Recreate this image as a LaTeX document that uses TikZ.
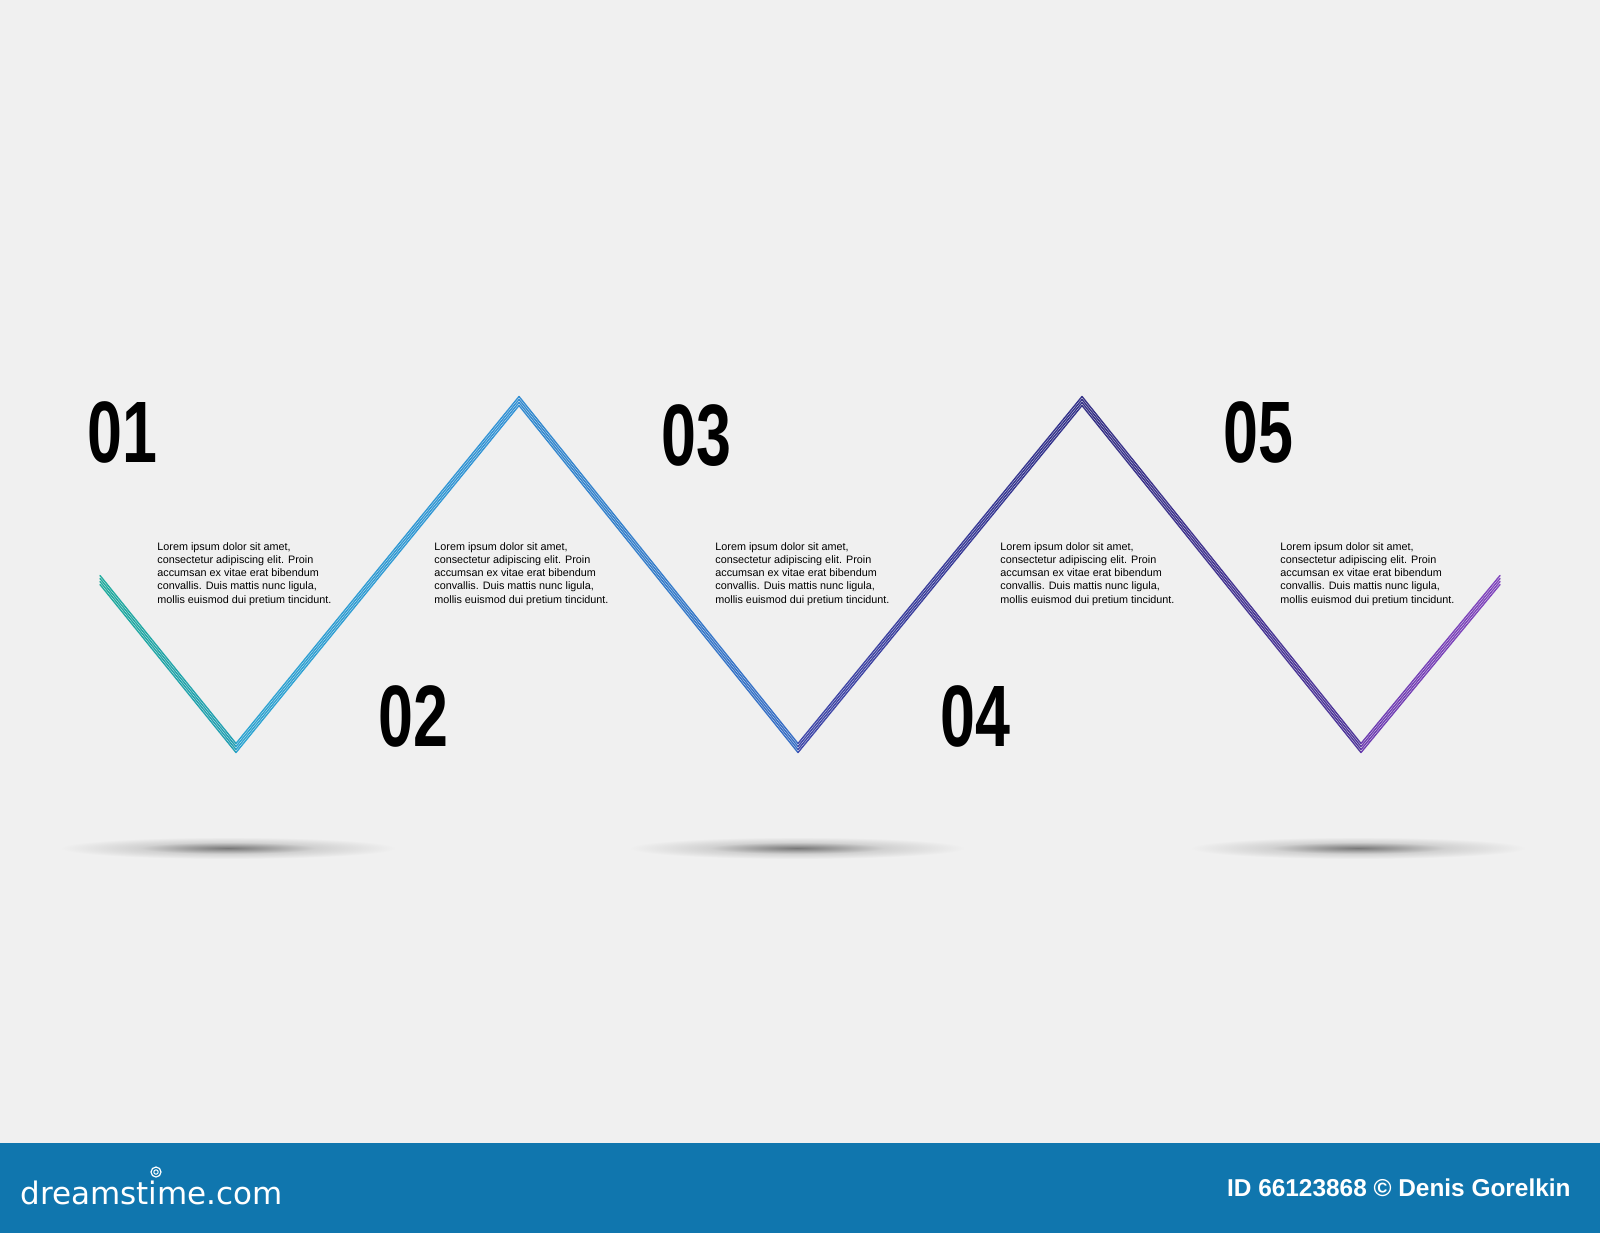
\documentclass[tikz,border=0pt]{standalone}
\usepackage{fontspec}
\setmainfont{Liberation Sans}
\newfontfamily\numfont[FakeStretch=0.72]{Liberation Sans}
\newfontfamily\logofont{DejaVu Sans}
\usetikzlibrary{calc}

\definecolor{bgcol}{RGB}{240,240,240}
\definecolor{barblue}{RGB}{16,118,174}
\definecolor{zgA}{RGB}{34,172,158}
\definecolor{zgB}{RGB}{36,160,180}
\definecolor{zgC}{RGB}{46,166,210}
\definecolor{zgD}{RGB}{52,146,214}
\definecolor{zgE}{RGB}{52,140,208}
\definecolor{zgF}{RGB}{56,110,198}
\definecolor{zgG}{RGB}{66,74,172}
\definecolor{zgH}{RGB}{52,50,138}
\definecolor{zgI}{RGB}{54,50,134}
\definecolor{zgJ}{RGB}{82,56,156}
\definecolor{zgK}{RGB}{110,62,178}
\definecolor{zgL}{RGB}{130,70,190}

\pgfdeclareradialshading{floorshadow}{\pgfpoint{0bp}{0bp}}{%
  color(0bp)=(black!50!bgcol); color(5bp)=(black!36!bgcol);
  color(13bp)=(black!13!bgcol); color(25bp)=(bgcol); color(50bp)=(bgcol)}

\newcommand\blurb{Lorem ipsum dolor sit amet,\\consectetur adipiscing elit. Proin\\accumsan ex vitae erat bibendum\\convallis. Duis mattis nunc ligula,\\mollis euismod dui pretium tincidunt.}

\begin{document}
\begin{tikzpicture}
  [
    x=0.5pt, y=-0.5pt,
    strand/.style =
      {line width=0.7pt, line cap=round},
    num/.style =
      {anchor=base west, inner sep=0, font=\numfont\bfseries\fontsize{43.6}{44}\selectfont},
    desc/.style =
      {anchor=north west, inner sep=0, align=left, font=\fontsize{5.4}{6.6}\selectfont},
    bartext/.style =
      {inner sep=0, text=white}
  ]

\fill[bgcol] (0,0) rectangle (1600,1233);
\fill[barblue] (0,1143) rectangle (1600,1233);

\coordinate (s1) at (228,848);
\coordinate (s2) at (797,848);
\coordinate (s3) at (1358,848);
\foreach \sh in {s1,s2,s3}
  \shade[shading=floorshadow] (\sh) ellipse [x radius=168, y radius=11];

\coordinate (v0) at (100,580);
\coordinate (v1) at (236,748);
\coordinate (v2) at (519,401);
\coordinate (v3) at (798,748);
\coordinate (v4) at (1082,401);
\coordinate (v5) at (1361,748);
\coordinate (v6) at (1500,580);

\foreach \pa/\pb/\ca/\cb in {v0/v1/zgA/zgB, v1/v2/zgC/zgD, v2/v3/zgE/zgF,
                             v3/v4/zgG/zgH, v4/v5/zgI/zgJ, v5/v6/zgK/zgL}
  \foreach \k in {1,...,16}
  {
    \pgfmathsetmacro\ts{(\k-1)/16}
    \pgfmathsetmacro\te{\k/16}
    \pgfmathtruncatemacro\p{100-100*(\k-0.5)/16}
    \foreach \s in {-1.5,-0.5,0.5,1.5}
      \draw[strand, color=\ca!\p!\cb]
        ($(\pa)!\ts!(\pb)+(0,\s*3)$) -- ($(\pa)!\te!(\pb)+(0,\s*3)$);
  }

\node[num] (n1) at (87,462) {01};
\node[num] (n2) at (378,746) {02};
\node[num] (n3) at (661,465) {03};
\node[num] (n4) at (940,746) {04};
\node[num] (n5) at (1223,462) {05};

\foreach \i/\x in {1/157, 2/434, 3/715, 4/1000, 5/1280}
  \node[desc] (d\i) at (\x,542) {\blurb};

\node[bartext, anchor=base west, font=\logofont\fontsize{15.5}{16}\selectfont]
  (logo) at (20,1204) {dreamstime.com};
\draw[white, line width=0.6pt] (156,1172) circle [radius=5];
\draw[white, line width=0.5pt] (156,1172) circle [radius=2.2];

\node[bartext, anchor=base east, font=\bfseries\fontsize{12.2}{13}\selectfont]
  (credit) at (1571,1196) {ID 66123868 © Denis Gorelkin};

\end{tikzpicture}
\end{document}
